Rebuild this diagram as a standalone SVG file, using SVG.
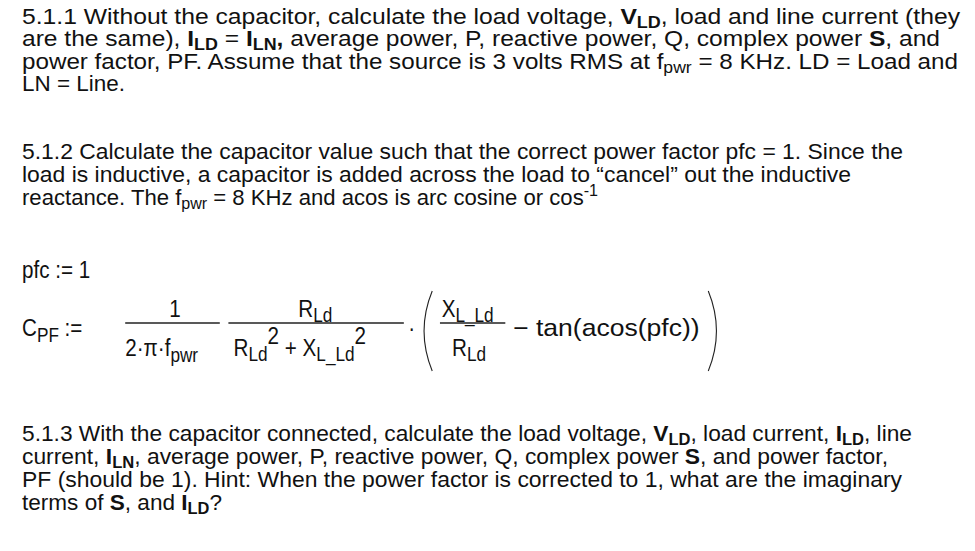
<svg xmlns="http://www.w3.org/2000/svg" width="975" height="551" viewBox="0 0 975 551">
<style>
text{font-family:"Liberation Sans",Arial,sans-serif;fill:#111}
.p{font-size:22px}
.m{font-size:24px}
.s{font-size:16px}
.b{font-weight:bold}
line{stroke:#222;stroke-width:1.3}
path{fill:none;stroke:#222;stroke-width:1.3}
</style>
<rect width="975" height="551" fill="#fff"/>
<g id="para1">
<text x="22" y="24" class="p" textLength="938" lengthAdjust="spacingAndGlyphs">5.1.1 Without the capacitor, calculate the load voltage, <tspan class="b">V<tspan class="s" dy="4">LD</tspan></tspan><tspan dy="-4">, load and line current (they</tspan></text>
<text x="22" y="46" class="p" textLength="918" lengthAdjust="spacingAndGlyphs">are the same), <tspan class="b">I<tspan class="s" dy="4">LD</tspan></tspan><tspan dy="-4"> = </tspan><tspan class="b">I<tspan class="s" dy="4">LN</tspan><tspan dy="-4">,</tspan></tspan> average power, P, reactive power, Q, complex power <tspan class="b">S</tspan>, and</text>
<text x="22" y="69" class="p" textLength="936" lengthAdjust="spacingAndGlyphs">power factor, PF. Assume that the source is 3 volts RMS at f<tspan class="s" dy="4">pwr</tspan><tspan dy="-4"> = 8 KHz. LD = Load and</tspan></text>
<text x="22" y="91" class="p" textLength="103" lengthAdjust="spacingAndGlyphs">LN = Line.</text>
</g>
<g id="para2">
<text x="22" y="159" class="p" textLength="881" lengthAdjust="spacingAndGlyphs">5.1.2 Calculate the capacitor value such that the correct power factor pfc = 1. Since the</text>
<text x="22" y="182" class="p" textLength="829" lengthAdjust="spacingAndGlyphs">load is inductive, a capacitor is added across the load to “cancel” out the inductive</text>
<text x="22" y="205" class="p" textLength="576" lengthAdjust="spacingAndGlyphs">reactance. The f<tspan class="s" dy="4">pwr</tspan><tspan dy="-4"> = 8 KHz and acos is arc cosine or cos</tspan><tspan class="s" dy="-9">-1</tspan></text>
</g>
<g id="formula" transform="translate(22,0) scale(0.86,1)">
<text x="0" y="278" class="m">pfc := 1</text>
<text x="0" y="336" class="m">C<tspan dy="6" font-size="20">PF</tspan><tspan dy="-6"> :=</tspan></text>
<text x="178" y="317" class="m" text-anchor="middle">1</text>
<line x1="120" y1="323" x2="230" y2="323"/>
<text x="120" y="356" class="m">2·π·f<tspan dy="6" font-size="20">pwr</tspan></text>
<text x="341" y="317" class="m" text-anchor="middle">R<tspan dy="5" font-size="20">Ld</tspan></text>
<line x1="240" y1="323" x2="444" y2="323"/>
<text x="246" y="356" class="m">R<tspan dy="5" font-size="20">Ld</tspan><tspan dy="-17">2</tspan><tspan dy="12"> + X</tspan><tspan dy="5" font-size="20">L_Ld</tspan><tspan dy="-17">2</tspan></text>
<text x="449" y="336" class="m">·</text>
<path d="M477,291 Q458,331 477,371"/>
<text x="488" y="317" class="m">X<tspan dy="5" font-size="20">L_Ld</tspan></text>
<line x1="486" y1="323" x2="562" y2="323"/>
<text x="500" y="356" class="m">R<tspan dy="5" font-size="20">Ld</tspan></text>
<text x="571" y="336" class="m" textLength="217" lengthAdjust="spacingAndGlyphs">− tan(acos(pfc))</text>
<path d="M798,291 Q817,331 798,371"/>
</g>
<g id="para3">
<text x="22" y="441" class="p" textLength="890" lengthAdjust="spacingAndGlyphs">5.1.3 With the capacitor connected, calculate the load voltage, <tspan class="b">V<tspan class="s" dy="4">LD</tspan></tspan><tspan dy="-4">, load current, </tspan><tspan class="b">I<tspan class="s" dy="4">LD</tspan></tspan><tspan dy="-4">, line</tspan></text>
<text x="22" y="464" class="p" textLength="866" lengthAdjust="spacingAndGlyphs">current, <tspan class="b">I<tspan class="s" dy="4">LN</tspan></tspan><tspan dy="-4">, average power, P, reactive power, Q, complex power </tspan><tspan class="b">S</tspan>, and power factor,</text>
<text x="22" y="487" class="p" textLength="880" lengthAdjust="spacingAndGlyphs">PF (should be 1). Hint: When the power factor is corrected to 1, what are the imaginary</text>
<text x="22" y="510" class="p" textLength="200" lengthAdjust="spacingAndGlyphs">terms of <tspan class="b">S</tspan>, and <tspan class="b">I<tspan class="s" dy="4">LD</tspan></tspan><tspan dy="-4">?</tspan></text>
</g>
</svg>
